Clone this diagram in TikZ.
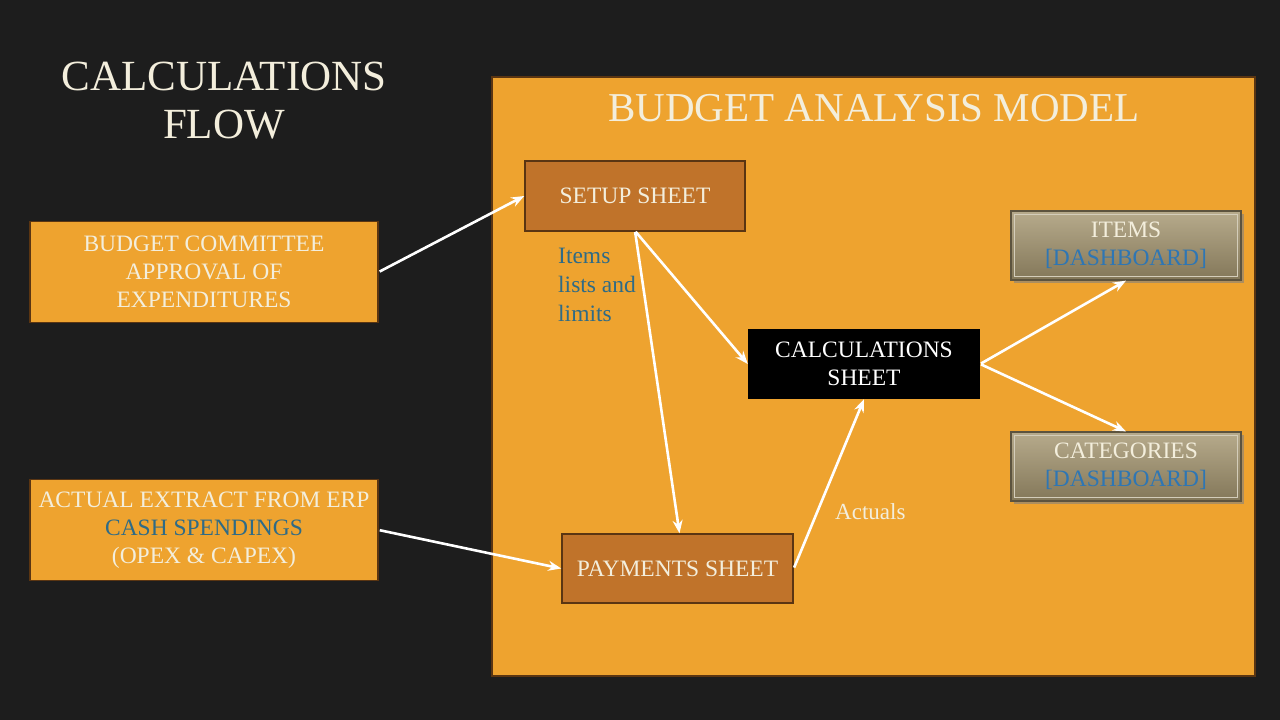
\documentclass[tikz,border=0pt]{standalone}
\usepackage{fontspec}
\setmainfont{Liberation Serif}
\usetikzlibrary{arrows.meta,shadows}
\definecolor{bg}{HTML}{1D1D1D}
\definecolor{orng}{HTML}{EEA32F}
\definecolor{brn}{HTML}{C0732A}
\definecolor{dbrn}{HTML}{5A3512}
\definecolor{cream}{HTML}{F3EEDC}
\definecolor{bluet}{HTML}{2F6B86}
\definecolor{blued}{HTML}{2E76B4}
\definecolor{dtop}{HTML}{B7AB8C}
\definecolor{dbot}{HTML}{837759}
\tikzset{
  boxfont/.style={font=\fontsize{23.5}{28}\selectfont},
  obox/.style={draw=dbrn, line width=1.5pt, fill=orng, text=cream, align=center, inner sep=0pt, boxfont},
  bbox/.style={draw=dbrn, line width=1.5pt, fill=brn, text=cream, align=center, inner sep=0pt, boxfont},
  kbox/.style={fill=black, text=white, align=center, inner sep=0pt, boxfont},
  dbox/.style={draw=dbot!70!black, line width=1.2pt, top color=dtop, bottom color=dbot, text=cream, align=center, inner sep=0pt, boxfont, drop shadow={shadow xshift=3pt, shadow yshift=-3pt, opacity=0.6}},
  flow/.style={draw=white, line width=2.6pt, -{Stealth[length=13pt,width=10pt]}, shorten <=1pt}
}
\begin{document}
\begin{tikzpicture}[x=1pt,y=-1pt]
\useasboundingbox (0,0) rectangle (1280,720);
\fill[bg] (0,0) rectangle (1280,720);
\node[text=cream, align=center, font=\fontsize{43}{48}\selectfont] (title) at (224,101) {CALCULATIONS\\FLOW};
\node[draw=dbrn, line width=1.5pt, fill=orng, minimum width=763pt, minimum height=599pt, inner sep=0pt] (model) at (873.5,376.5) {};
\node[text=cream, font=\fontsize{41}{46}\selectfont] (mtitle) at (874,108) {BUDGET ANALYSIS MODEL};
\node[bbox, minimum width=220pt, minimum height=70pt] (setup) at (635,196) {SETUP SHEET};
\node[obox, minimum width=348pt, minimum height=101pt] (committee) at (204,272) {BUDGET COMMITTEE\\APPROVAL OF\\EXPENDITURES};
\node[obox, minimum width=348pt, minimum height=101pt] (actual) at (204,530) {ACTUAL EXTRACT FROM ERP\\\textcolor{bluet}{CASH SPENDINGS}\\(OPEX \& CAPEX)};
\node[bbox, minimum width=231pt, minimum height=69pt] (payments) at (677.5,568.5) {PAYMENTS SHEET};
\node[kbox, minimum width=232pt, minimum height=70pt] (calc) at (864,364) {CALCULATIONS\\SHEET};
\node[dbox, minimum width=230pt, minimum height=69pt] (items) at (1126,245.5) {ITEMS\\\textcolor{blued}{[DASHBOARD]}};
\node[dbox, minimum width=230pt, minimum height=69pt] (cats) at (1126,466.5) {CATEGORIES\\\textcolor{blued}{[DASHBOARD]}};
\draw[dtop!60!white, line width=0.8pt] ([shift={(4pt,-4pt)}]items.north west) rectangle ([shift={(-4pt,4pt)}]items.south east);
\draw[dtop!60!white, line width=0.8pt] ([shift={(4pt,-4pt)}]cats.north west) rectangle ([shift={(-4pt,4pt)}]cats.south east);
\node[text=bluet, align=left, anchor=north west, inner sep=0pt, font=\fontsize{23.5}{29}\selectfont] (lbl) at (558,248) {Items\\lists and\\limits};
\node[text=cream, anchor=west, inner sep=0pt, font=\fontsize{23}{26}\selectfont] (act) at (835,512) {Actuals};
\coordinate (sb) at (635,231);
\draw[flow] (committee.east) -- (setup.west);
\draw[flow] (actual.east) -- (payments.west);
\draw[flow] (sb) -- ([xshift=2pt]payments.north);
\draw[flow] (sb) -- (calc.west);
\draw[flow] (payments.east) -- (calc.south);
\draw[flow] (calc.east) -- (items.south);
\draw[flow] (calc.east) -- (cats.north);
\end{tikzpicture}
\end{document}
